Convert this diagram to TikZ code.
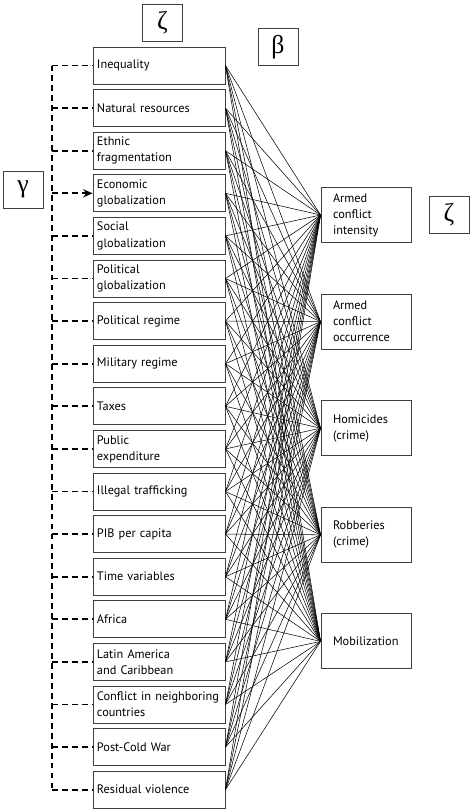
\documentclass[tikz,border=0pt]{standalone}
\usepackage{fontspec}
\setmainfont{PT Sans}
\newfontfamily\greekfont{Liberation Serif}
\usepackage{tikz}
\usetikzlibrary{positioning}
\usetikzlibrary{arrows.meta}

\begin{document}
\begin{tikzpicture}[x=0.03cm, y=-0.03cm,
    factor/.style={rectangle, draw=black!75, line width=0.8pt, minimum width=3.96cm, minimum height=1.11cm, text width=3.72cm, align=left, inner sep=0pt, font=\fontsize{10.5}{13.7}\selectfont},
    outcome/.style={rectangle, draw=black!75, line width=0.8pt, minimum width=2.7cm, minimum height=1.65cm, text width=1.98cm, align=left, inner sep=0pt, font=\fontsize{10.5}{13.7}\selectfont},
    param/.style={rectangle, draw=black!75, line width=0.8pt, minimum width=1.2cm, minimum height=1.11cm, inner sep=0pt, font=\greekfont\fontsize{22}{22}\selectfont},
    gammalink/.style={line width=1.6pt, dash pattern=on 5pt off 3.5pt},
    betalink/.style={line width=0.45pt}]
    \useasboundingbox (0,0) rectangle (474,810);

    % explanatory factors
    \foreach \lbl [count=\i] in {Inequality, Natural resources, {Ethnic\\fragmentation}, {Economic\\globalization}, {Social\\globalization}, {Political\\globalization}, Political regime, Military regime, Taxes, {Public\\expenditure}, Illegal trafficking, PIB per capita, Time variables, Africa, {Latin America\\and Caribbean}, {Conflict in neighboring\\countries}, Post-Cold War, Residual violence}
        \node[factor](f\i) at (159, {65.5+42.6*(\i-1)}) {\lbl};

    % outcomes
    \foreach \lbl [count=\j] in {{Armed\\conflict\\intensity}, {Armed\\conflict\\occurrence}, {Homicides\\(crime)}, {Robberies\\(crime)}, Mobilization}
        \node[outcome](o\j) at (366, {215+106.6*(\j-1)}) {\lbl};

    % parameters
    \node[param](zetatop) at (162.5, 23) {ζ};
    \node[param](beta) at (278, 47) {β};
    \node[param](zetaright) at (449, 214.5) {ζ};
    \node[param](gamma) at (23, 189.5) {γ};

    % gamma links
    \coordinate (rail) at (52, 0);
    \draw[gammalink] (f1.west -| rail) -- (f18.west -| rail);
    \foreach \i in {1,2,3,5,6,7,8,9,10,11,12,13,14,15,16,17,18}
        \draw[gammalink] (f\i.west -| rail) -- (f\i.west);
    \draw[gammalink, -{Stealth[length=8pt, width=7pt]}] (f4.west -| rail) -- (f4.west);

    % beta links
    \foreach \i in {1,...,18}
        \foreach \j in {1,...,5}
            \draw[betalink] (f\i.east) -- (o\j.west);
\end{tikzpicture}
\end{document}
